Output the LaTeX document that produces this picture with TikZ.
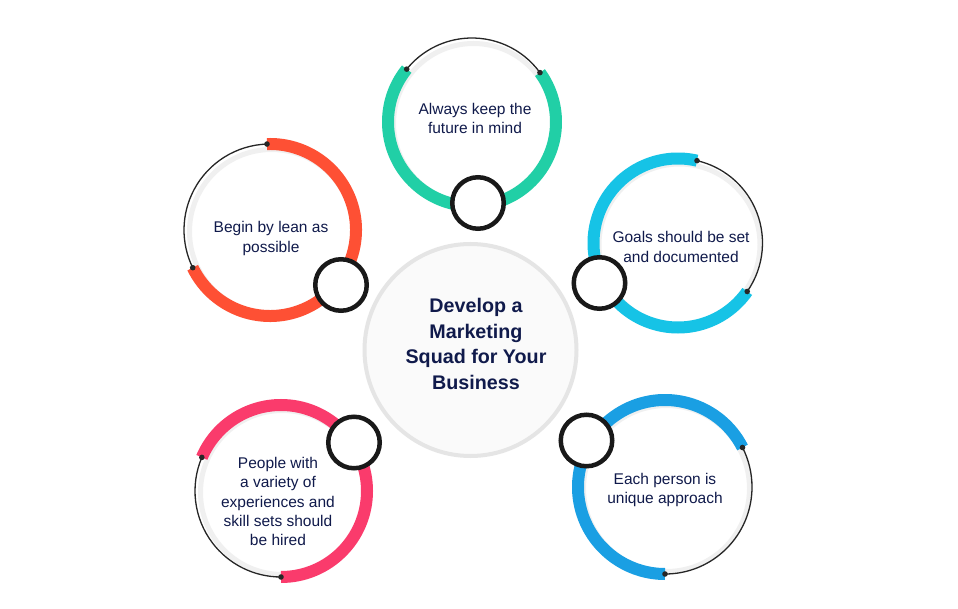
\documentclass[tikz,border=0pt]{standalone}
\usepackage{fontspec}
\setmainfont{Liberation Sans}
\definecolor{navy}{HTML}{101A4B}
\definecolor{cgreen}{HTML}{21CFA6}
\definecolor{cred}{HTML}{FE5034}
\definecolor{ccyan}{HTML}{16C3E6}
\definecolor{cpink}{HTML}{FA3B6C}
\definecolor{cblue}{HTML}{1A9FE3}
\tikzset{
  colring/.style={line width=12pt, line cap=butt},
  thinarc/.style={line width=1.3pt, black!85},
  shadowring/.style={line width=5pt, black!6},
  knob/.style={circle, draw=black!90, line width=4.5pt, fill=white, minimum size=51.5pt, inner sep=0pt},
  lbl/.style={align=center, text=navy, inner sep=0pt, font=\fontsize{15.5}{19.3}\selectfont},
  titlelbl/.style={align=center, text=navy, inner sep=0pt, font=\bfseries\fontsize{19.7}{25.7}\selectfont},
  hubstyle/.style={circle, draw=black!10, fill=black!2, line width=4pt, minimum size=212pt, inner sep=0pt},
  enddot/.style={fill=black!85},
}
\begin{document}
\begin{tikzpicture}[x=1pt,y=1pt]
\useasboundingbox[fill=white] (0,0) rectangle (958,608);

% centres
\coordinate (c1) at (472,486);
\coordinate (c2) at (270,378);
\coordinate (c3) at (678,365);
\coordinate (c4) at (281,117);
\coordinate (c5) at (665,121);

% hub
\node[hubstyle] (hub) at (470.5,258) {};
\node[titlelbl] (title) at (476,264) {Develop a\\Marketing\\Squad for Your\\Business};

% shadows
\foreach \c/\r in {c1/84,c2/86,c3/84.5,c4/86,c5/87}{
  \draw[shadowring] ([shift={(1.5,-1.5)}]\c) circle ({\r-4});
}

% ring 1 (top)
\draw[thinarc] ([shift={(36:84)}]c1) arc[start angle=36, end angle=141, radius=84];
\draw[colring, cgreen] ([shift={(141:84)}]c1) arc[start angle=141, end angle=396, radius=84];
\fill[enddot] ([shift={(36:84)}]c1) circle (2.8);
\fill[enddot] ([shift={(141:84)}]c1) circle (2.8);
\node[knob] (k1) at (478,405) {};
\node[lbl] (t1) at (475,489.5) {Always keep the\\future in mind};

% ring 2 (left)
\draw[thinarc] ([shift={(92:86)}]c2) arc[start angle=92, end angle=206, radius=86];
\draw[colring, cred] ([shift={(206:86)}]c2) arc[start angle=206, end angle=452, radius=86];
\fill[enddot] ([shift={(92:86)}]c2) circle (2.8);
\fill[enddot] ([shift={(206:86)}]c2) circle (2.8);
\node[knob] (k2) at (341,323) {};
\node[lbl] (t2) at (271,369.5) {Begin by lean as\\possible};

% ring 3 (right)
\draw[thinarc] ([shift={(-35:84.5)}]c3) arc[start angle=-35, end angle=77, radius=84.5];
\draw[colring, ccyan] ([shift={(77:84.5)}]c3) arc[start angle=77, end angle=325, radius=84.5];
\fill[enddot] ([shift={(-35:84.5)}]c3) circle (2.8);
\fill[enddot] ([shift={(77:84.5)}]c3) circle (2.8);
\node[knob] (k3) at (599.5,325) {};
\node[lbl] (t3) at (681,361) {Goals should be set\\and documented};

% ring 4 (bottom left)
\draw[thinarc] ([shift={(157:86)}]c4) arc[start angle=157, end angle=270, radius=86];
\draw[colring, cpink] ([shift={(-90:86)}]c4) arc[start angle=-90, end angle=157, radius=86];
\fill[enddot] ([shift={(157:86)}]c4) circle (2.8);
\fill[enddot] ([shift={(270:86)}]c4) circle (2.8);
\node[knob] (k4) at (354,165.5) {};
\node[lbl] (t4) at (278,106.5) {People with\\a variety of\\experiences and\\skill sets should\\be hired};

% ring 5 (bottom right)
\draw[thinarc] ([shift={(270:87)}]c5) arc[start angle=270, end angle=387, radius=87];
\draw[colring, cblue] ([shift={(27:87)}]c5) arc[start angle=27, end angle=270, radius=87];
\fill[enddot] ([shift={(27:87)}]c5) circle (2.8);
\fill[enddot] ([shift={(270:87)}]c5) circle (2.8);
\node[knob] (k5) at (586.5,167.5) {};
\node[lbl] (t5) at (665,118) {Each person is\\unique approach};
\end{tikzpicture}
\end{document}
